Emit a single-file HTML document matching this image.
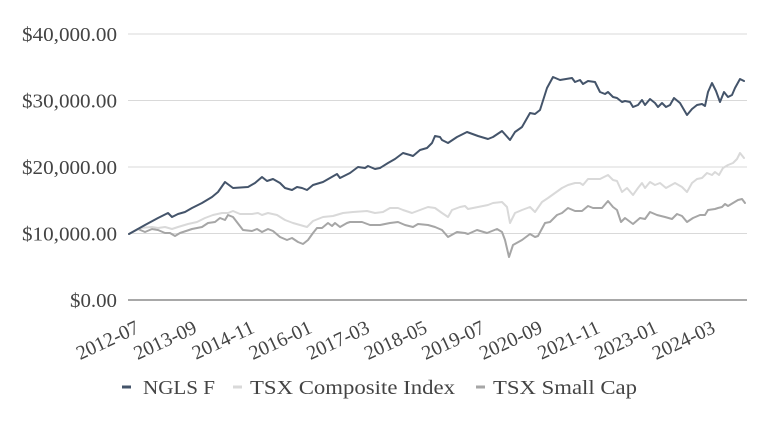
<!DOCTYPE html>
<html>
<head>
<meta charset="utf-8">
<style>
  html,body{margin:0;padding:0;background:#ffffff;}
  body{width:768px;height:423px;overflow:hidden;}
  svg{display:block;}
  text{font-family:"Liberation Serif",serif;fill:#444444;}
</style>
</head>
<body>
<svg width="768" height="423" viewBox="0 0 768 423" xmlns="http://www.w3.org/2000/svg">
  <rect width="768" height="423" fill="#ffffff"/>
  <!-- gridlines -->
  <g stroke="#d9d9d9" stroke-width="1">
    <line x1="128" y1="34" x2="747" y2="34"/>
    <line x1="128" y1="100.5" x2="747" y2="100.5"/>
    <line x1="128" y1="167" x2="747" y2="167"/>
    <line x1="128" y1="233.5" x2="747" y2="233.5"/>
  </g>
  <line x1="128" y1="300" x2="747" y2="300" stroke="#8c8c8c" stroke-width="1.5"/>

  <!-- y labels -->
  <g font-size="19.5" text-anchor="end">
    <text x="117" y="41" textLength="95" lengthAdjust="spacingAndGlyphs">$40,000.00</text>
    <text x="117" y="107.5" textLength="95" lengthAdjust="spacingAndGlyphs">$30,000.00</text>
    <text x="117" y="174" textLength="95" lengthAdjust="spacingAndGlyphs">$20,000.00</text>
    <text x="117" y="240.5" textLength="95" lengthAdjust="spacingAndGlyphs">$10,000.00</text>
    <text x="117" y="307" textLength="47" lengthAdjust="spacingAndGlyphs">$0.00</text>
  </g>

  <!-- x labels -->
  <g font-size="20" text-anchor="end">
    <text transform="translate(140.5,332) rotate(-25)">2012-07</text>
    <text transform="translate(198.1,332) rotate(-25)">2013-09</text>
    <text transform="translate(255.7,332) rotate(-25)">2014-11</text>
    <text transform="translate(313.3,332) rotate(-25)">2016-01</text>
    <text transform="translate(370.9,332) rotate(-25)">2017-03</text>
    <text transform="translate(428.5,332) rotate(-25)">2018-05</text>
    <text transform="translate(486.1,332) rotate(-25)">2019-07</text>
    <text transform="translate(543.7,332) rotate(-25)">2020-09</text>
    <text transform="translate(601.3,332) rotate(-25)">2021-11</text>
    <text transform="translate(658.9,332) rotate(-25)">2023-01</text>
    <text transform="translate(716.5,332) rotate(-25)">2024-03</text>
  </g>

  <!-- series -->
  <g fill="none" stroke-width="2" stroke-linejoin="round" stroke-linecap="round">
    <polyline stroke="#a6a6a6" points="129,234 138,229 145,232 152,229 158,230 165,233 170,233 175,236 180,233 192,229 202,227 208,223 215,222 220,218 225,220 228,215 233,217 243,230 252,231 257,229 262,232 268,229 273,231 280,237 287,240 292,238 298,242 303,244 308,240 313,233 317,228 322,228 328,223 332,226 335,223 340,227 347,223 350,222 362,222 370,225 380,225 390,223 398,222 405,225 413,227 418,224 428,225 435,227 442,230 448,237 457,232 465,233 468,234 477,230 487,233 497,229 502,232 505,240 509,257 513,245 522,240 530,234 535,237 538,236 545,223 550,222 557,215 562,213 568,208 575,211 582,211 588,206 593,208 602,208 608,201 613,207 617,210 621,222 625,218 633,224 640,218 645,219 650,212 657,215 665,217 672,219 677,214 682,216 687,222 693,218 700,215 705,215 708,210 715,209 718,208 722,207 725,204 728,206 733,203 738,200 742,199 745,203"/>
    <polyline stroke="#d9d9d9" points="129,234 140,228 152,227 158,228 165,227 172,229 178,227 188,224 197,222 205,218 213,215 222,213 228,213 233,211 240,214 252,214 258,213 262,215 268,213 277,215 285,220 293,223 300,225 307,227 313,221 323,217 333,216 343,213 353,212 367,211 375,213 383,212 390,208 398,208 403,210 412,213 420,210 428,207 435,208 442,213 448,217 452,210 460,207 465,206 468,209 478,207 488,205 493,203 502,202 507,207 510,223 515,213 522,210 530,207 535,212 542,202 548,198 555,193 562,188 568,185 575,183 580,183 583,185 588,179 593,179 600,179 608,175 613,180 617,181 622,192 627,188 633,195 638,188 642,183 645,188 650,182 655,185 660,183 666,188 675,183 682,187 687,192 692,183 697,179 702,178 707,173 712,175 715,172 719,175 723,168 728,165 733,163 737,159 740,153 744,158"/>
    <polyline stroke="#44546a" points="129,234 145,225 158,218 168,213 172,217 178,214 185,212 192,208 202,203 212,197 218,192 225,182 233,188 248,187 255,183 262,177 267,181 273,179 280,183 285,188 292,190 297,187 302,188 307,190 313,185 323,182 330,178 337,174 340,178 350,173 358,167 365,168 368,166 375,169 380,168 388,163 395,159 403,153 410,155 413,156 420,150 427,148 432,143 435,136 440,137 442,140 448,143 457,137 467,132 478,136 488,139 493,137 502,131 510,140 515,132 522,127 530,113 535,114 540,110 547,88 553,77 560,80 572,78 575,82 580,80 583,84 588,81 595,82 600,92 605,94 608,92 613,97 617,98 622,102 625,101 630,102 633,107 638,105 642,100 645,105 650,99 655,103 658,107 662,103 666,107 670,105 674,98 680,103 687,115 692,109 697,105 702,104 705,106 708,92 712,83 716,91 720,102 724,92 728,97 732,95 735,88 740,79 744,81"/>
  </g>

  <!-- legend -->
  <rect x="122" y="385.5" width="9" height="3" fill="#44546a"/>
  <text x="143" y="394" font-size="20.5" textLength="72" lengthAdjust="spacingAndGlyphs">NGLS F</text>
  <rect x="233" y="385.5" width="9" height="3" fill="#d9d9d9"/>
  <text x="250" y="394" font-size="20.5" textLength="205" lengthAdjust="spacingAndGlyphs">TSX Composite Index</text>
  <rect x="476" y="385.5" width="9" height="3" fill="#a6a6a6"/>
  <text x="493" y="394" font-size="20.5" textLength="144" lengthAdjust="spacingAndGlyphs">TSX Small Cap</text>
</svg>
</body>
</html>
